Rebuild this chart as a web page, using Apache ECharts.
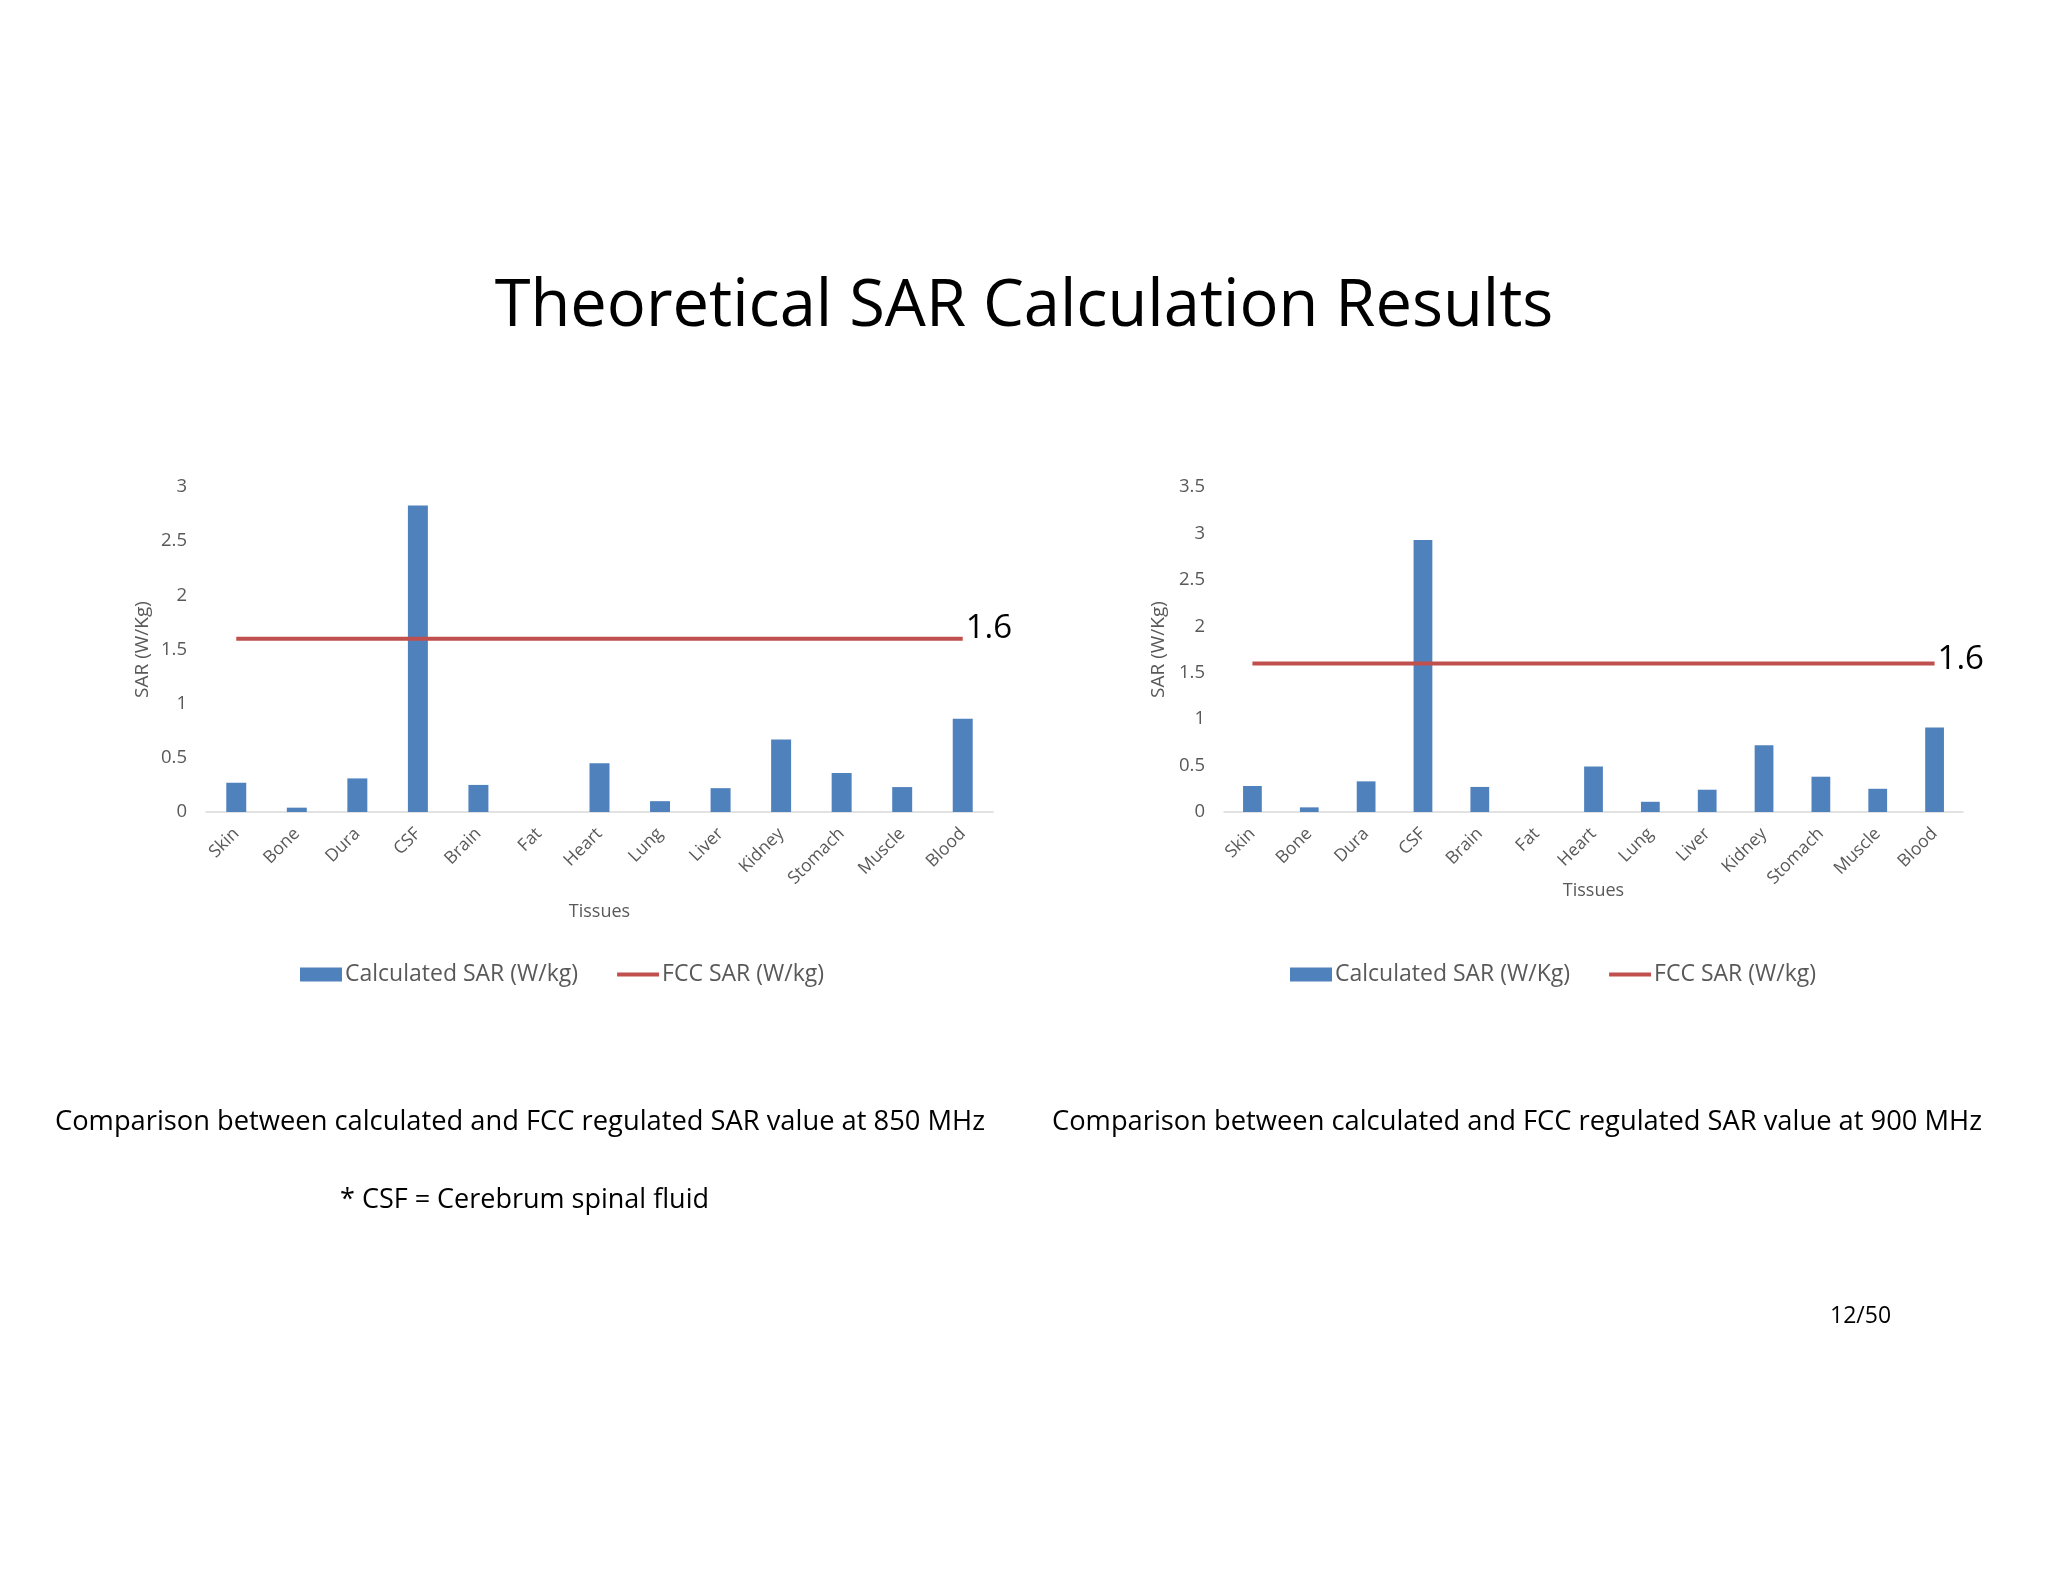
<!DOCTYPE html>
<html>
<head>
<meta charset="utf-8">
<title>Theoretical SAR Calculation Results</title>
<script src="https://cdn.jsdelivr.net/npm/echarts@6/dist/echarts.min.js"></script>
<style>
  html, body { margin: 0; padding: 0; background: #fff; }
  #main { width: 2048px; height: 1582px; }
</style>
</head>
<body>
<div id="main"></div>
<script>
// tissues on the x axis (same for both charts)
var tissues = ['Skin', 'Bone', 'Dura', 'CSF', 'Brain', 'Fat', 'Heart', 'Lung', 'Liver', 'Kidney', 'Stomach', 'Muscle', 'Blood'];

// 850 MHz
var sar850 = [0.27, 0.04, 0.31, 2.83, 0.25, 0, 0.45, 0.10, 0.22, 0.67, 0.36, 0.23, 0.86];
// 900 MHz
var sar900 = [0.28, 0.05, 0.33, 2.93, 0.27, 0, 0.49, 0.11, 0.24, 0.72, 0.38, 0.25, 0.91];
// FCC limit
var fcc = [1.6, 1.6, 1.6, 1.6, 1.6, 1.6, 1.6, 1.6, 1.6, 1.6, 1.6, 1.6, 1.6];

var yMaxLeft = 3, yMaxRight = 3.5;

var textColor = '#595959';
var fontFam = '"Open Sans", sans-serif';

// legend icon for the red line: a thin band inside a 42x14 box
var lineIcon = 'path://M0,0L42,0L42,0.01Z M0,5L42,5L42,9L0,9Z M0,14L42,14L42,14.01Z';

function xAx(idx, gap) {
    return {
        type: 'category',
        gridIndex: idx,
        data: tissues,
        name: 'Tissues',
        nameLocation: 'middle',
        nameGap: gap,
        nameMoveOverlap: false,
        nameTextStyle: { color: textColor, fontSize: 18, fontFamily: fontFam },
        axisLine: { lineStyle: { color: '#d9d9d9', width: 1.5 } },
        axisTick: { show: false },
        axisLabel: { rotate: 45, color: textColor, fontSize: 17.5, fontFamily: fontFam, margin: 19, interval: 0 }
    };
}

function yAx(idx, max, gap) {
    return {
        type: 'value',
        gridIndex: idx,
        min: 0,
        max: max,
        interval: 0.5,
        name: 'SAR (W/Kg)',
        nameLocation: 'middle',
        nameGap: gap,
        nameTextStyle: { color: textColor, fontSize: 19, fontFamily: fontFam },
        splitLine: { show: false },
        axisLine: { show: false },
        axisTick: { show: false },
        axisLabel: { color: textColor, fontSize: 18.5, fontFamily: fontFam, margin: 19 }
    };
}

function legendCfg(left, barName, lineName) {
    return {
        left: left,
        top: 958,
        itemWidth: 42,
        itemHeight: 14,
        itemGap: 39,
        textStyle: { color: textColor, fontSize: 23, fontFamily: fontFam, padding: [0, 0, 0, -2] },
        data: [
            { name: barName, icon: 'rect' },
            { name: lineName, icon: lineIcon }
        ]
    };
}

function fccSeries(name, idx, dy) {
    return {
        name: name,
        type: 'line',
        xAxisIndex: idx,
        yAxisIndex: idx,
        symbol: 'none',
        lineStyle: { color: '#c0504d', width: 4 },
        itemStyle: { color: '#c0504d' },
        z: 3,
        endLabel: { show: true, formatter: '{c}', distance: 3, offset: [0, dy], color: '#000', fontSize: 33, fontFamily: fontFam },
        data: fcc
    };
}

var myChart = echarts.init(document.getElementById('main'));

var option = {
    backgroundColor: '#ffffff',
    animation: false,
    title: [
        {
            text: 'Theoretical SAR Calculation Results',
            left: 'center',
            top: 270,
            textStyle: { color: '#000', fontSize: 65, fontWeight: 'normal', fontFamily: fontFam }
        },
        {
            text: 'Comparison between calculated and FCC regulated SAR value at 850 MHz',
            left: 50,
            top: 1104,
            textStyle: { color: '#000', fontSize: 27.3, fontWeight: 'normal', fontFamily: fontFam }
        },
        {
            text: 'Comparison between calculated and FCC regulated SAR value at 900 MHz',
            left: 1047,
            top: 1104,
            textStyle: { color: '#000', fontSize: 27.3, fontWeight: 'normal', fontFamily: fontFam }
        },
        {
            text: '* CSF = Cerebrum spinal fluid',
            left: 335,
            top: 1182,
            textStyle: { color: '#000', fontSize: 27, fontWeight: 'normal', fontFamily: fontFam }
        },
        {
            text: '12/50',
            left: 1825,
            top: 1300,
            textStyle: { color: '#000', fontSize: 23, fontWeight: 'normal', fontFamily: fontFam }
        }
    ],
    legend: [
        legendCfg(295, 'Calculated SAR (W/kg)', 'FCC SAR (W/kg)'),
        legendCfg(1285, 'Calculated SAR (W/Kg)', 'FCC SAR (W/kg) ')
    ],
    grid: [
        { left: 206, right: 1055, top: 487, bottom: 770 },
        { left: 1224, right: 85, top: 487, bottom: 770 }
    ],
    xAxis: [xAx(0, 91), xAx(1, 70)],
    yAxis: [yAx(0, yMaxLeft, 54), yAx(1, yMaxRight, 56)],
    series: [
        {
            name: 'Calculated SAR (W/kg)',
            type: 'bar',
            xAxisIndex: 0,
            yAxisIndex: 0,
            barWidth: '33%',
            itemStyle: { color: '#4f81bd' },
            data: sar850
        },
        fccSeries('FCC SAR (W/kg)', 0, -10),
        {
            name: 'Calculated SAR (W/Kg)',
            type: 'bar',
            xAxisIndex: 1,
            yAxisIndex: 1,
            barWidth: '33%',
            itemStyle: { color: '#4f81bd' },
            data: sar900
        },
        fccSeries('FCC SAR (W/kg) ', 1, -4)
    ]
};

myChart.setOption(option);
</script>
</body>
</html>
